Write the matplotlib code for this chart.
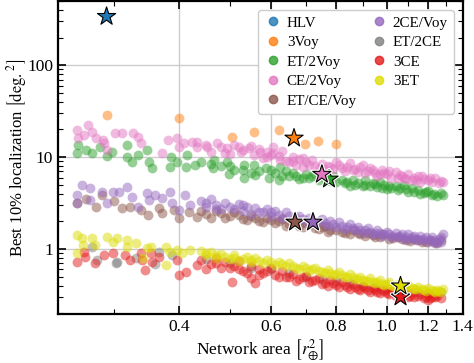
import numpy as np
import matplotlib
matplotlib.use("Agg")
import matplotlib.pyplot as plt
import matplotlib.ticker as ticker
import matplotlib.patheffects as pe
from matplotlib.lines import Line2D

plt.rcParams['font.family'] = ['Liberation Serif', 'DejaVu Serif']
plt.rcParams['mathtext.fontset'] = 'stix'
plt.rcParams['font.size'] = 12

# network names, in legend order
names = ["HLV", "3Voy", "ET/2Voy", "CE/2Voy", "ET/CE/Voy",
         "2CE/Voy", "ET/2CE", "3CE", "3ET"]
colors = ["#1f77b4", "#ff7f0e", "#2ca02c", "#e377c2", "#8c564b",
          "#9467bd", "#7f7f7f", "#e41a1c", "#dcdc00"]

# (network area, best 10% localization) for each random network
hlv = [(0.29, 340)]
voy3 = [(0.291, 28.6), (0.40, 26.5), (0.505, 16.5), (0.556, 18.7), (0.62, 19.6),
        (0.697, 13.8), (0.739, 14.9), (0.80, 13.8)]
et2voy = [(0.256, 13.5), (0.255, 11), (0.272, 11), (0.282, 12.8), (0.297, 11.3),
          (0.317, 13.5), (0.317, 10), (0.324, 8.8), (0.333, 10.5), (0.346, 11.9),
          (0.35, 8.8), (0.354, 7.6), (0.383, 7.8), (0.386, 10), (0.396, 8.8),
          (0.412, 7.8), (0.414, 10.5), (0.428, 8.2), (0.265, 12), (0.29, 10.2),
          (0.44, 8.8), (0.464, 7.6), (0.467, 9.3), (0.494, 8.8), (0.498, 6.5),
          (0.533, 8.2), (0.533, 6.0), (0.55, 6.7), (0.557, 8.2), (0.587, 7.6),
          (0.594, 6.0), (0.62, 5.6), (0.625, 7.8), (0.65, 6.3), (0.67, 6.3),
          (0.69, 6.0), (0.72, 6.3), (0.48, 8.0), (0.51, 7.3), (0.57, 7.0),
          (0.61, 6.8), (0.64, 7.0), (0.68, 5.8), (0.70, 6.6), (0.74, 5.7),
          (0.76, 6.0), (0.78, 5.5), (0.80, 5.3), (0.83, 5.2), (0.86, 5.6),
          (0.88, 5.2), (0.91, 5.0), (0.94, 5.2), (0.96, 4.7), (0.99, 5.0),
          (1.02, 4.6), (1.05, 4.4), (1.08, 5.0), (1.10, 4.2), (1.15, 4.4),
          (1.18, 4.1), (1.22, 3.9), (1.27, 4.1), (0.91, 5.6), (0.82, 5.7),
          (0.85, 4.9), (0.90, 4.8), (0.97, 5.3), (1.00, 4.5), (1.04, 4.9),
          (1.12, 4.6), (1.20, 4.3), (1.25, 3.8),
          (0.46, 8.4), (0.50, 8.0), (0.53, 7.2), (0.56, 6.4), (0.60, 7.2),
          (0.63, 6.2), (0.66, 6.8), (0.71, 5.9), (0.73, 6.6), (0.77, 5.8),
          (0.79, 6.2), (0.84, 5.4), (0.87, 5.0), (0.93, 4.8), (0.95, 5.1),
          (0.98, 4.6), (1.01, 4.8), (1.06, 4.6), (1.09, 4.5), (1.13, 4.2),
          (1.16, 4.0), (1.19, 4.2), (1.23, 4.0), (1.28, 3.9)]
ce2voy = [(0.255, 19.6), (0.256, 16), (0.263, 17.4), (0.267, 22.2), (0.272, 18.7),
          (0.277, 16), (0.285, 15.3), (0.287, 14.2), (0.291, 11.9), (0.301, 18.2),
          (0.311, 18.2), (0.326, 18.2), (0.333, 16.5), (0.337, 14.2), (0.37, 11),
          (0.38, 15.3), (0.396, 16), (0.40, 12.8), (0.409, 14.2), (0.423, 14.6),
          (0.432, 12.8), (0.432, 14.6), (0.452, 12.8), (0.473, 14.2), (0.494, 12.5),
          (0.51, 13.5), (0.525, 11.3), (0.544, 12.5), (0.556, 10.5), (0.572, 11.3),
          (0.589, 10), (0.606, 11), (0.606, 12.8), (0.625, 9.3), (0.65, 8.8),
          (0.66, 10), (0.67, 8.2), (0.69, 7.8), (0.71, 8.2), (0.74, 7.6),
          (0.76, 7.2), (0.78, 7.8), (0.82, 7.6), (0.85, 8.6), (0.86, 7.2),
          (0.89, 7.8), (0.90, 8.2), (0.91, 6.7), (0.94, 7.2), (0.96, 6.3),
          (0.98, 7.2), (0.99, 6.7), (1.02, 6.0), (1.05, 5.9), (1.08, 6.0),
          (1.13, 6.0), (1.16, 5.3), (1.20, 5.6), (1.26, 5.2),
          (0.46, 11.5), (0.48, 13.0), (0.50, 10.8), (0.53, 12.0), (0.55, 13.2),
          (0.58, 9.8), (0.60, 10.5), (0.63, 11.8), (0.64, 9.0), (0.68, 9.5),
          (0.70, 8.8), (0.72, 9.2), (0.75, 8.4), (0.77, 8.0), (0.80, 8.8),
          (0.83, 7.0), (0.87, 7.4), (0.92, 7.0), (0.95, 6.8), (1.00, 6.5),
          (1.04, 6.9), (1.07, 6.3), (1.10, 6.6), (1.12, 5.6), (1.15, 6.2),
          (1.18, 5.8), (1.22, 5.4), (1.24, 6.0), (1.27, 5.5),
          (0.45, 13.5), (0.49, 11.0), (0.52, 12.8), (0.57, 12.2), (0.59, 11.5),
          (0.62, 10.2), (0.66, 9.0), (0.69, 9.8), (0.73, 8.0), (0.79, 7.4),
          (0.81, 8.2), (0.84, 7.8), (0.88, 6.9), (0.93, 7.6), (0.97, 6.6),
          (1.01, 7.0), (1.06, 6.4), (1.09, 5.8), (1.14, 5.7), (1.17, 6.3),
          (1.21, 5.9), (1.28, 5.3)]
etcevoy = [(0.255, 3.16), (0.277, 2.86), (0.284, 3.86), (0.31, 2.79), (0.321, 2.86),
           (0.337, 2.65), (0.349, 2.34), (0.366, 2.79), (0.37, 2.46), (0.39, 2.65),
           (0.40, 2.17), (0.418, 2.52), (0.432, 2.23), (0.265, 3.5), (0.30, 3.3),
           (0.45, 2.4), (0.47, 2.6), (0.49, 2.2), (0.51, 2.5), (0.53, 2.1),
           (0.55, 2.3), (0.57, 2.0), (0.59, 2.2), (0.61, 1.9), (0.63, 2.1),
           (0.65, 1.85), (0.67, 2.0), (0.69, 1.75), (0.72, 1.85), (0.74, 1.65),
           (0.76, 1.8), (0.78, 1.6), (0.80, 1.6), (0.83, 1.5), (0.86, 1.6),
           (0.89, 1.45), (0.92, 1.5), (0.95, 1.35), (0.98, 1.45), (1.01, 1.3),
           (1.05, 1.35), (1.09, 1.25), (1.13, 1.3), (1.17, 1.2), (1.21, 1.25),
           (1.25, 1.15),
           (0.44, 2.6), (0.46, 2.2), (0.48, 2.45), (0.50, 2.3), (0.52, 2.35),
           (0.54, 2.05), (0.56, 2.15), (0.58, 1.95), (0.60, 2.05), (0.62, 2.0),
           (0.64, 1.8), (0.66, 1.9), (0.68, 1.8), (0.70, 1.9), (0.73, 1.7),
           (0.75, 1.75), (0.77, 1.55), (0.82, 1.55), (0.85, 1.45), (0.88, 1.5),
           (0.91, 1.4), (0.94, 1.42), (0.97, 1.35), (1.03, 1.32), (1.07, 1.28),
           (1.11, 1.22), (1.15, 1.25), (1.19, 1.18), (1.23, 1.2), (1.27, 1.25)]
ce2voy_2 = [(0.255, 3.86), (0.255, 3.16), (0.26, 4.96), (0.269, 4.6), (0.27, 3.4),
            (0.284, 4.2), (0.291, 3.16), (0.298, 4.2), (0.307, 4.2), (0.317, 4.7),
            (0.324, 3.67), (0.346, 4.06), (0.333, 2.86), (0.36, 3.86), (0.383, 4.2),
            (0.388, 3.16), (0.41, 3.86), (0.40, 2.65), (0.42, 3.0), (0.35, 3.4),
            (0.37, 3.6), (0.44, 3.3), (0.45, 2.9), (0.46, 3.5), (0.47, 3.0),
            (0.48, 2.7), (0.49, 3.2), (0.50, 2.9), (0.52, 3.1), (0.53, 2.6),
            (0.54, 2.9), (0.55, 2.4), (0.56, 2.8), (0.58, 2.5), (0.59, 2.7),
            (0.60, 2.3), (0.61, 2.6), (0.63, 2.2), (0.64, 2.5), (0.66, 2.1),
            (0.68, 2.3), (0.70, 2.0), (0.71, 2.2), (0.73, 1.9), (0.75, 2.1),
            (0.77, 1.8), (0.78, 2.0), (0.80, 1.75), (0.81, 1.95), (0.83, 1.65),
            (0.85, 1.85), (0.87, 1.6), (0.88, 1.75), (0.90, 1.5), (0.92, 1.7),
            (0.94, 1.45), (0.96, 1.6), (0.98, 1.4), (1.00, 1.55), (1.02, 1.35),
            (1.04, 1.5), (1.06, 1.4), (1.08, 1.3), (1.10, 1.45), (1.12, 1.35),
            (1.14, 1.25), (1.16, 1.4), (1.18, 1.3), (1.20, 1.2), (1.22, 1.35),
            (1.24, 1.15), (1.26, 1.3), (1.28, 1.45), (1.27, 1.2),
            (0.45, 3.2), (0.47, 2.75), (0.51, 2.75), (0.53, 3.0), (0.57, 2.55),
            (0.60, 2.5), (0.62, 2.35), (0.65, 2.3), (0.67, 2.2), (0.69, 2.1),
            (0.72, 2.0), (0.74, 2.0), (0.76, 1.9), (0.79, 1.85), (0.82, 1.8),
            (0.84, 1.75), (0.86, 1.7), (0.89, 1.6), (0.91, 1.6), (0.93, 1.55),
            (0.95, 1.5), (0.97, 1.5), (0.99, 1.45), (1.01, 1.45), (1.03, 1.4),
            (1.05, 1.35), (1.07, 1.45), (1.09, 1.35), (1.11, 1.3), (1.13, 1.4),
            (1.15, 1.3), (1.17, 1.25), (1.19, 1.35), (1.21, 1.25), (1.23, 1.25),
            (1.25, 1.2), (1.27, 1.35)]
et2ce = [(0.272, 1.05), (0.303, 0.70), (0.278, 0.76), (0.366, 0.93), (0.388, 0.86),
         (0.304, 0.72), (0.33, 0.80), (0.36, 0.68), (0.45, 0.78), (0.50, 0.70),
         (0.55, 0.62), (0.60, 0.60), (0.65, 0.55), (0.70, 0.50), (0.75, 0.47),
         (0.80, 0.45), (0.85, 0.43), (0.90, 0.40), (0.95, 0.39), (1.00, 0.37),
         (1.05, 0.36), (1.10, 0.35), (1.15, 0.34), (1.20, 0.33), (1.24, 0.32),
         (1.27, 0.34)]
ce3 = [(0.255, 0.72), (0.263, 0.93), (0.264, 0.82), (0.275, 0.70), (0.287, 0.86),
       (0.298, 0.90), (0.314, 0.86), (0.321, 0.76), (0.337, 0.90), (0.339, 0.76),
       (0.343, 0.59), (0.353, 0.90), (0.355, 0.72), (0.366, 0.82), (0.40, 0.52),
       (0.412, 0.56), (0.396, 0.76), (0.432, 0.67), (0.44, 0.75), (0.46, 0.68),
       (0.47, 0.80), (0.48, 0.62), (0.49, 0.72), (0.505, 0.44), (0.51, 0.66),
       (0.52, 0.74), (0.53, 0.58), (0.55, 0.48), (0.55, 0.65), (0.56, 0.43),
       (0.57, 0.60), (0.58, 0.55), (0.60, 0.62), (0.61, 0.52), (0.63, 0.57),
       (0.64, 0.49), (0.66, 0.54), (0.68, 0.47), (0.70, 0.51), (0.72, 0.45),
       (0.74, 0.48), (0.76, 0.43), (0.78, 0.46), (0.80, 0.41), (0.82, 0.44),
       (0.84, 0.39), (0.86, 0.42), (0.88, 0.37), (0.90, 0.40), (0.92, 0.36),
       (0.94, 0.38), (0.96, 0.34), (0.98, 0.37), (1.00, 0.33), (1.02, 0.35),
       (1.04, 0.31), (1.06, 0.34), (1.08, 0.32), (1.10, 0.30), (1.12, 0.33),
       (1.15, 0.31), (1.18, 0.29), (1.20, 0.32), (1.22, 0.30), (1.25, 0.31),
       (1.27, 0.29), (1.20, 0.28),
       (0.45, 0.60), (0.47, 0.70), (0.50, 0.62), (0.52, 0.60), (0.54, 0.55),
       (0.57, 0.52), (0.59, 0.58), (0.62, 0.50), (0.65, 0.50), (0.67, 0.45),
       (0.69, 0.49), (0.71, 0.44), (0.73, 0.46), (0.75, 0.42), (0.77, 0.40),
       (0.79, 0.43), (0.81, 0.39), (0.83, 0.41), (0.85, 0.37), (0.87, 0.39),
       (0.89, 0.36), (0.91, 0.38), (0.93, 0.34), (0.95, 0.36), (0.97, 0.33),
       (0.99, 0.35), (1.01, 0.32), (1.03, 0.34), (1.05, 0.32), (1.07, 0.30),
       (1.09, 0.33), (1.11, 0.31), (1.13, 0.30), (1.16, 0.32), (1.19, 0.30),
       (1.21, 0.29), (1.24, 0.30)]
et3 = [(0.255, 1.42), (0.26, 1.32), (0.261, 1.10), (0.272, 1.32), (0.275, 1.10),
       (0.29, 1.35), (0.298, 1.19), (0.304, 1.32), (0.318, 1.25), (0.317, 1.05),
       (0.331, 1.16), (0.346, 1.03), (0.353, 1.05), (0.377, 1.05), (0.383, 0.93),
       (0.396, 0.98), (0.405, 0.90), (0.42, 0.98), (0.255, 0.90), (0.377, 0.67),
       (0.34, 0.80), (0.44, 0.95), (0.45, 0.85), (0.46, 0.92), (0.47, 0.80),
       (0.48, 0.88), (0.50, 0.78), (0.51, 0.86), (0.52, 0.74), (0.54, 0.82),
       (0.55, 0.72), (0.56, 0.79), (0.58, 0.70), (0.59, 0.76), (0.61, 0.67),
       (0.62, 0.73), (0.64, 0.65), (0.65, 0.70), (0.67, 0.62), (0.69, 0.66),
       (0.71, 0.58), (0.73, 0.62), (0.75, 0.56), (0.77, 0.59), (0.79, 0.52),
       (0.81, 0.56), (0.83, 0.50), (0.85, 0.53), (0.87, 0.47), (0.89, 0.50),
       (0.91, 0.45), (0.93, 0.48), (0.95, 0.43), (0.97, 0.46), (0.99, 0.41),
       (1.01, 0.44), (1.03, 0.40), (1.05, 0.42), (1.08, 0.39), (1.10, 0.41),
       (1.13, 0.37), (1.15, 0.39), (1.18, 0.36), (1.20, 0.38), (1.23, 0.35),
       (1.25, 0.36), (1.27, 0.34), (1.28, 0.37),
       (0.45, 0.90), (0.47, 0.86), (0.49, 0.82), (0.51, 0.80), (0.53, 0.78),
       (0.55, 0.76), (0.57, 0.74), (0.60, 0.72), (0.63, 0.69), (0.66, 0.66),
       (0.68, 0.60), (0.70, 0.62), (0.72, 0.60), (0.74, 0.58), (0.76, 0.55),
       (0.78, 0.55), (0.80, 0.53), (0.82, 0.52), (0.84, 0.49), (0.86, 0.50),
       (0.88, 0.47), (0.90, 0.46), (0.92, 0.45), (0.94, 0.44), (0.96, 0.44),
       (0.98, 0.42), (1.00, 0.42), (1.02, 0.41), (1.04, 0.39), (1.07, 0.40),
       (1.09, 0.38), (1.12, 0.38), (1.14, 0.37), (1.17, 0.37), (1.19, 0.35),
       (1.22, 0.36), (1.24, 0.34), (1.26, 0.35)]

# current-generation (reference) network of each kind, marked with a star
star_x = [0.29, 0.664, 0.775, 0.751, 0.667, 0.722, None, 1.063, 1.063]
star_y = [340, 16.1, 5.77, 6.5, 1.96, 1.96, None, 0.30, 0.396]

clouds = [hlv, voy3, et2voy, ce2voy, etcevoy, ce2voy_2, et2ce, ce3, et3]

fig = plt.figure(figsize=(4.74, 3.63), dpi=100)
ax = fig.add_axes([0.1224, 0.135, 0.854, 0.862])

for pts, c in zip(clouds, colors):
    arr = np.array(pts)
    ax.scatter(arr[:, 0], arr[:, 1], s=50, color=c, alpha=0.5, linewidths=0, zorder=2)

for sx, sy, c in zip(star_x, star_y, colors):
    if sx is None:
        continue
    ax.scatter([sx], [sy], s=190, marker='*', color=c, edgecolors='black',
               linewidths=0.8, zorder=5,
               path_effects=[pe.withStroke(linewidth=2.5, foreground='white')])

ax.set_xscale('log')
ax.set_yscale('log')
ax.set_xlim(0.234, 1.4)
ax.set_ylim(0.196, 500)

ax.xaxis.set_major_locator(ticker.FixedLocator([0.4, 0.6, 0.8, 1.0, 1.2, 1.4]))
ax.xaxis.set_major_formatter(ticker.FixedFormatter(["0.4", "0.6", "0.8", "1.0", "1.2", "1.4"]))
ax.xaxis.set_minor_locator(ticker.FixedLocator([0.3, 0.5, 0.7, 0.9, 1.1, 1.3]))
ax.xaxis.set_minor_formatter(ticker.NullFormatter())
ax.yaxis.set_major_locator(ticker.LogLocator(base=10))
ax.yaxis.set_major_formatter(ticker.FuncFormatter(lambda v, p: f"{v:g}"))
ax.yaxis.set_minor_locator(ticker.LogLocator(base=10, subs=range(2, 10)))
ax.yaxis.set_minor_formatter(ticker.NullFormatter())

ax.tick_params(which='both', direction='in', top=True, right=True, labelsize=12.5)
ax.tick_params(which='major', length=6, width=1.2)
ax.tick_params(which='minor', length=3.5, width=0.8)
for sp in ax.spines.values():
    sp.set_linewidth(1.6)
ax.grid(True, which='major', color='#cccccc', linewidth=1.0, zorder=0)
ax.set_axisbelow(True)

ax.set_xlabel(r"Network area $\left[r_{\oplus}^{2}\right]$", fontsize=12.5, labelpad=2)
ax.set_ylabel(r"Best 10% localization $\left[\mathrm{deg.}^{2}\right]$", fontsize=12)
ax.yaxis.set_label_coords(-0.072, 0.5)

handles = [Line2D([], [], marker='o', linestyle='', color=c, alpha=0.8, markersize=6)
           for c in colors]
ax.legend(handles, names, loc='upper right', ncol=2, fontsize=10.8, frameon=True,
          edgecolor='#cccccc', framealpha=1, handletextpad=0.3, columnspacing=0.9,
          labelspacing=0.4, borderaxespad=0.6, handlelength=1.2)

fig.savefig("out.png", dpi=100)
